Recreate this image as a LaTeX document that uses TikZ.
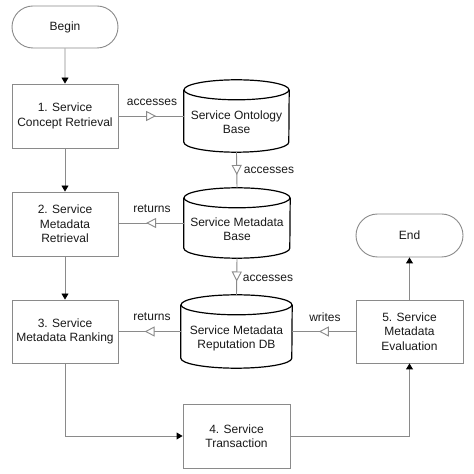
\documentclass[tikz,border=0pt]{standalone}
\usepackage{fontspec}
\setmainfont{Liberation Sans}
\usetikzlibrary{arrows.meta,calc,decorations.markings,shapes.misc}
\definecolor{boxgray}{HTML}{8A8A8A}
\definecolor{txt}{HTML}{1A1A1A}
\tikzset{
  every node/.style={font=\fontsize{12}{14.3}\selectfont, text=txt, align=center},
  procbox/.style={draw=boxgray, line width=0.9pt, rectangle, minimum width=106pt, minimum height=64pt, inner sep=0pt},
  termbox/.style={draw=boxgray, line width=0.9pt, rounded rectangle, minimum width=106pt, minimum height=42pt, inner sep=0pt},
  cylbox/.style={rectangle, inner sep=0pt},
  cylline/.style={draw=black, line width=1.2pt},
  flow/.style={draw=boxgray, line width=0.9pt, -{Triangle[length=6pt,width=7pt,fill=black,color=black]}},
  assoc/.style={draw=boxgray, line width=0.9pt, postaction={decorate},
    decoration={markings, mark=at position 0.5 with {\arrow[xshift=5pt]{Triangle[length=10pt,width=10pt,fill=white]}}}},
}
\newcommand\drawcyl[2]{%
  \draw[cylline] ($(#1.north west)+(0,-10)$) -- ($(#1.south west)+(0,10)$)
    arc[start angle=180, end angle=360, x radius=#2, y radius=10]
    -- ($(#1.north east)+(0,-10)$);
  \draw[cylline] ($(#1.north)+(0,-10)$) ellipse [x radius=#2, y radius=10];
}
\begin{document}
\begin{tikzpicture}[x=1pt,y=1pt]
\useasboundingbox (0,0) rectangle (474,474);
\fill[white] (0,0) rectangle (474,474);
% process nodes
\node[termbox] (begin) at (65,447) {Begin};
\node[procbox] (b1) at (65,358) {1. Service\\Concept Retrieval};
\node[procbox] (b2) at (65,250) {2. Service\\Metadata\\Retrieval};
\node[procbox, minimum height=63pt] (b3) at (65,142.5) {3. Service\\Metadata Ranking};
\node[procbox, minimum width=107pt] (b4) at (236.5,38) {4. Service\\Transaction};
\node[procbox, minimum width=107pt, minimum height=63pt] (b5) at (409.5,142.5) {5. Service\\Metadata\\Evaluation};
\node[termbox, minimum width=107pt, minimum height=43pt] (end) at (409.5,238.5) {End};
% cylinders
\node[cylbox, minimum width=105pt, minimum height=72pt] (c1) at (236.5,358) {};
\node[cylbox, minimum width=106pt, minimum height=70pt] (c2) at (237,251) {};
\node[cylbox, minimum width=111pt, minimum height=73pt] (c3) at (236.5,142.5) {};
\drawcyl{c1}{52.5}
\drawcyl{c2}{53}
\drawcyl{c3}{55.5}
\node (c1t) at ($(c1.center)+(0,-6)$) {Service Ontology\\Base};
\node (c2t) at ($(c2.center)+(0,-6)$) {Service Metadata\\Base};
\node (c3t) at ($(c3.center)+(0,-7)$) {Service Metadata\\Reputation DB};
% flow connectors
\draw[flow] (begin) -- (b1);
\draw[flow] (b1) -- (b2);
\draw[flow] (b2) -- (b3);
\draw[flow] (b3.south) |- (b4.west);
\draw[flow] (b4.east) -| (b5.south);
\draw[flow] (b5) -- (end);
% association connectors
\draw[assoc] (b1.east) -- (c1.west);
\draw[assoc] (c2.west) -- (b2.east |- c2.west);
\draw[assoc] (c3.west) -- (b3.east);
\draw[assoc] (b5.west) -- (c3.east);
\draw[assoc] (c1.south) -- (c2.north);
\draw[assoc] (c2.south) -- (c3.north);
% labels
\node (l1) at (152,372) {accesses};
\node (l2) at (152,265) {returns};
\node (l3) at (152,157) {returns};
\node (l4) at (325,157) {writes};
\node (l5) at (269,304) {accesses};
\node (l6) at (268,196) {accesses};
\end{tikzpicture}
\end{document}
